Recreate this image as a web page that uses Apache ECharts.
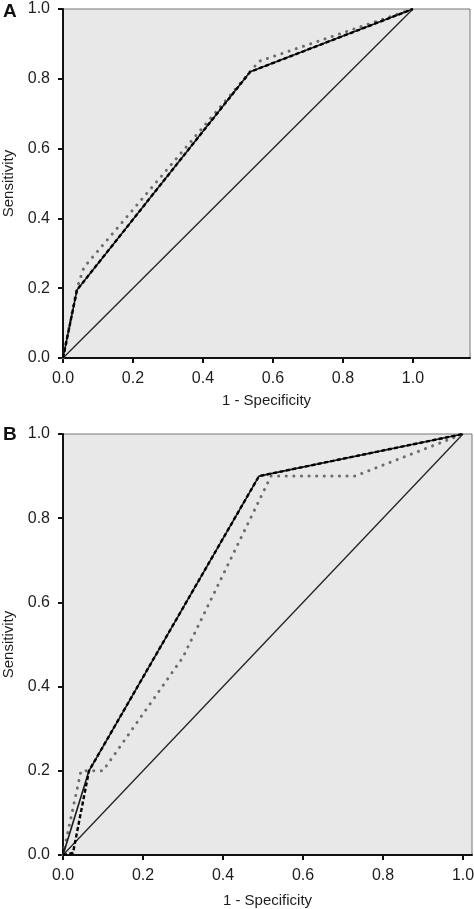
<!DOCTYPE html>
<html>
<head>
<meta charset="utf-8">
<script src="https://cdn.jsdelivr.net/npm/echarts@6/dist/echarts.min.js"></script>
<style>
html,body{margin:0;padding:0;background:#fff;}
#chart{width:474px;height:909px;}
</style>
</head>
<body>
<div id="chart"></div>
<script>
// ---- Data ----
var tickValues = [0, 0.2, 0.4, 0.6, 0.8, 1.0];

var refX = [0, 1];
var refY = [0, 1];

// Panel A
var aSolidX = [0, 0.04, 0.535, 1.0];
var aSolidY = [0, 0.195, 0.82, 1.0];
var aDashedX = [0, 0.04, 0.535, 1.0];
var aDashedY = [0, 0.195, 0.82, 1.0];
var aDottedX = [0, 0.04, 0.06, 0.56, 1.0];
var aDottedY = [0, 0.2, 0.26, 0.85, 1.0];

// Panel B
var bSolidX = [0, 0.065, 0.49, 1.0];
var bSolidY = [0, 0.2, 0.9, 1.0];
var bDashedX = [0, 0.025, 0.065, 0.49, 1.0];
var bDashedY = [0, 0.005, 0.2, 0.9, 1.0];
var bDottedX = [0, 0.045, 0.1, 0.3, 0.52, 0.73, 1.0];
var bDottedY = [0, 0.2, 0.2, 0.47, 0.9, 0.9, 1.0];

function pts(xs, ys) { return xs.map(function (x, i) { return [x, ys[i]]; }); }

var FONT = 'Liberation Sans, Arial, Helvetica, sans-serif';
var AX = '#111';
var TXT = '#1e1e1e';

function xAx(gi, max, gap) {
  return {
    type: 'value', gridIndex: gi, min: 0, max: max,
    name: '1 - Specificity', nameLocation: 'middle', nameGap: gap,
    nameTextStyle: { color: TXT, fontSize: 15, fontFamily: FONT },
    axisLine: { show: true, onZero: false, lineStyle: { color: AX, width: 2 } },
    axisTick: { show: true, inside: false, length: 5, customValues: tickValues, lineStyle: { color: AX, width: 2 } },
    axisLabel: { show: true, customValues: tickValues, margin: 13, color: TXT, fontSize: 16, fontFamily: FONT,
      formatter: function (v) { return v.toFixed(1); } },
    splitLine: { show: false }
  };
}
function yAx(gi) {
  return {
    type: 'value', gridIndex: gi, min: 0, max: 1, interval: 0.2,
    name: 'Sensitivity', nameLocation: 'middle', nameGap: 47,
    nameTextStyle: { color: TXT, fontSize: 15, fontFamily: FONT },
    axisLine: { show: true, onZero: false, lineStyle: { color: AX, width: 2 } },
    axisTick: { show: true, inside: false, length: 5, lineStyle: { color: AX, width: 2 } },
    axisLabel: { show: true, margin: 13, color: TXT, fontSize: 16, fontFamily: FONT,
      formatter: function (v) { return v.toFixed(1); } },
    splitLine: { show: false }
  };
}

function line(gi, data, style, z) {
  return {
    type: 'line', xAxisIndex: gi, yAxisIndex: gi, data: data,
    showSymbol: false, symbol: 'none', silent: true, animation: false,
    lineStyle: style, z: z
  };
}

var refStyle = { color: '#222', width: 1.3, type: 'solid' };
var solidStyle = { color: '#1a1a1a', width: 1.6, type: 'solid' };
var dashedStyle = { color: '#000', width: 2.4, type: [4, 2.5] };
var dottedStyle = { color: '#6c6c6c', width: 3, type: [0.1, 7.5], cap: 'round' };

var option = {
  animation: false,
  backgroundColor: '#fff',
  grid: [
    { left: 63, top: 9, width: 407, height: 349, containLabel: false, outerBoundsMode: 'none',
      show: true, backgroundColor: '#e8e8e8', borderColor: '#777', borderWidth: 1 },
    { left: 63, top: 434, width: 409, height: 421, containLabel: false, outerBoundsMode: 'none',
      show: true, backgroundColor: '#e8e8e8', borderColor: '#777', borderWidth: 1 }
  ],
  xAxis: [xAx(0, 1.163, 35), xAx(1, 1.0225, 38)],
  yAxis: [yAx(0), yAx(1)],
  graphic: [
    { type: 'text', left: 3, top: 2, style: { text: 'A', font: 'bold 19px ' + FONT, fill: '#111' } },
    { type: 'text', left: 3, top: 425, style: { text: 'B', font: 'bold 19px ' + FONT, fill: '#111' } }
  ],
  series: [
    line(0, pts(refX, refY), refStyle, 2),
    line(0, pts(aDottedX, aDottedY), dottedStyle, 3),
    line(0, pts(aSolidX, aSolidY), solidStyle, 4),
    line(0, pts(aDashedX, aDashedY), dashedStyle, 5),
    line(1, pts(refX, refY), refStyle, 2),
    line(1, pts(bDottedX, bDottedY), dottedStyle, 3),
    line(1, pts(bSolidX, bSolidY), solidStyle, 4),
    line(1, pts(bDashedX, bDashedY), dashedStyle, 5)
  ]
};

var chart = echarts.init(document.getElementById('chart'), null, { renderer: 'canvas' });
chart.setOption(option);
</script>
</body>
</html>
